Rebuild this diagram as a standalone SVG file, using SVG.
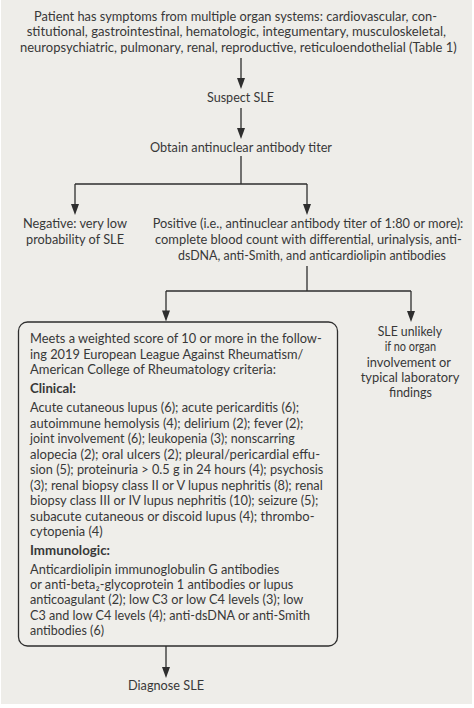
<svg xmlns="http://www.w3.org/2000/svg" width="474" height="708" viewBox="0 0 474 708">
<style>
text{font-family:Lato,"Liberation Sans",sans-serif;font-size:13px;fill:#383838}
.k text{font-size:13.6px}
.b{font-weight:bold}
.ln{fill:none;stroke:#2e2e2e;stroke-width:1.3}
.ah{fill:#2e2e2e}
</style>
<defs>
<path id="head" d="M-4,-11 L4,-11 L0,0 Z"/>
</defs>
<rect x="1" y="0" width="471" height="704" fill="#eeede9"/>
<g id="connectors">
<path class="ln" d="M241,58 V80"/>
<path class="ln" d="M241,108 V130"/>
<path class="ln" d="M241,156 V184 M75,184 H307"/>
<path class="ln" d="M75,184 V206"/>
<path class="ln" d="M307,184 V206"/>
<path class="ln" d="M307,266 V291 M166,291 H411"/>
<path class="ln" d="M166,291 V313"/>
<path class="ln" d="M411,291 V313"/>
<path class="ln" d="M166,646 V669"/>
<use href="#head" class="ah" x="241" y="89"/>
<use href="#head" class="ah" x="241" y="139"/>
<use href="#head" class="ah" x="75" y="215"/>
<use href="#head" class="ah" x="307" y="215"/>
<use href="#head" class="ah" x="166" y="321.5"/>
<use href="#head" class="ah" x="411" y="322"/>
<use href="#head" class="ah" x="166" y="678"/>
</g>
<g id="n-symptoms">
<text x="34" y="20.5" textLength="403" lengthAdjust="spacingAndGlyphs">Patient has symptoms from multiple organ systems: cardiovascular, con-</text>
<text x="26.7" y="36" textLength="419.3" lengthAdjust="spacingAndGlyphs">stitutional, gastrointestinal, hematologic, integumentary, musculoskeletal,</text>
<text x="20" y="51.5" textLength="436.7" lengthAdjust="spacingAndGlyphs">neuropsychiatric, pulmonary, renal, reproductive, reticuloendothelial (Table 1)</text>
</g>
<g id="n-suspect">
<text x="207" y="102" textLength="67" lengthAdjust="spacingAndGlyphs">Suspect SLE</text>
</g>
<g id="n-ana">
<text x="150" y="151.5" textLength="182" lengthAdjust="spacingAndGlyphs">Obtain antinuclear antibody titer</text>
</g>
<g id="n-negative">
<text x="23" y="228" textLength="104" lengthAdjust="spacingAndGlyphs">Negative: very low</text>
<text x="26" y="244" textLength="98" lengthAdjust="spacingAndGlyphs">probability of SLE</text>
</g>
<g id="n-positive">
<text x="152.7" y="228" textLength="310.6" lengthAdjust="spacingAndGlyphs">Positive (i.e., antinuclear antibody titer of 1:80 or more):</text>
<text x="155" y="244" textLength="306.7" lengthAdjust="spacingAndGlyphs">complete blood count with differential, urinalysis, anti-</text>
<text x="178" y="259.5" textLength="268" lengthAdjust="spacingAndGlyphs">dsDNA, anti-Smith, and anticardiolipin antibodies</text>
</g>
<g id="n-unlikely">
<text x="377.7" y="336" textLength="64.3" lengthAdjust="spacingAndGlyphs">SLE unlikely</text>
<text x="384.7" y="351" textLength="51.3" lengthAdjust="spacingAndGlyphs">if no organ</text>
<text x="366.7" y="366.5" textLength="84.3" lengthAdjust="spacingAndGlyphs">involvement or</text>
<text x="360.7" y="381.5" textLength="98.7" lengthAdjust="spacingAndGlyphs">typical laboratory</text>
<text x="389" y="397" textLength="43" lengthAdjust="spacingAndGlyphs">findings</text>
</g>
<g id="n-criteria" class="k">
<rect x="18.5" y="322" width="319" height="324" rx="9" fill="#efeeea" stroke="#2e2e2e" stroke-width="1.3"/>
<text x="30" y="343" textLength="291.7" lengthAdjust="spacingAndGlyphs">Meets a weighted score of 10 or more in the follow-</text>
<text x="30" y="358.5" textLength="273.3" lengthAdjust="spacingAndGlyphs">ing 2019 European League Against Rheumatism/</text>
<text x="30" y="374" textLength="246" lengthAdjust="spacingAndGlyphs">American College of Rheumatology criteria:</text>
<text x="30" y="393" class="b" textLength="46" lengthAdjust="spacingAndGlyphs">Clinical:</text>
<text x="30" y="412" textLength="269" lengthAdjust="spacingAndGlyphs">Acute cutaneous lupus (6); acute pericarditis (6);</text>
<text x="30" y="427.5" textLength="273.3" lengthAdjust="spacingAndGlyphs">autoimmune hemolysis (4); delirium (2); fever (2);</text>
<text x="30" y="443" textLength="264.7" lengthAdjust="spacingAndGlyphs">joint involvement (6); leukopenia (3); nonscarring</text>
<text x="30" y="458.5" textLength="290" lengthAdjust="spacingAndGlyphs">alopecia (2); oral ulcers (2); pleural/pericardial effu-</text>
<text x="30" y="474" textLength="293.3" lengthAdjust="spacingAndGlyphs">sion (5); proteinuria &gt; 0.5 g in 24 hours (4); psychosis</text>
<text x="30" y="489.5" textLength="292.7" lengthAdjust="spacingAndGlyphs">(3); renal biopsy class II or V lupus nephritis (8); renal</text>
<text x="30" y="505" textLength="288.3" lengthAdjust="spacingAndGlyphs">biopsy class III or IV lupus nephritis (10); seizure (5);</text>
<text x="30" y="520.5" textLength="284.5" lengthAdjust="spacingAndGlyphs">subacute cutaneous or discoid lupus (4); thrombo-</text>
<text x="30" y="535.5" textLength="72.7" lengthAdjust="spacingAndGlyphs">cytopenia (4)</text>
<text x="30" y="554.5" class="b" textLength="80" lengthAdjust="spacingAndGlyphs">Immunologic:</text>
<text x="30" y="574" textLength="249.3" lengthAdjust="spacingAndGlyphs">Anticardiolipin immunoglobulin G antibodies</text>
<text x="30" y="589" textLength="263.3" lengthAdjust="spacingAndGlyphs">or anti-beta₂-glycoprotein 1 antibodies or lupus</text>
<text x="30" y="604" textLength="273.3" lengthAdjust="spacingAndGlyphs">anticoagulant (2); low C3 or low C4 levels (3); low</text>
<text x="30" y="619.5" textLength="280" lengthAdjust="spacingAndGlyphs">C3 and low C4 levels (4); anti-dsDNA or anti-Smith</text>
<text x="30" y="635" textLength="74" lengthAdjust="spacingAndGlyphs">antibodies (6)</text>
</g>
<g id="n-diagnose">
<text x="128" y="690" textLength="76" lengthAdjust="spacingAndGlyphs">Diagnose SLE</text>
</g>
</svg>
